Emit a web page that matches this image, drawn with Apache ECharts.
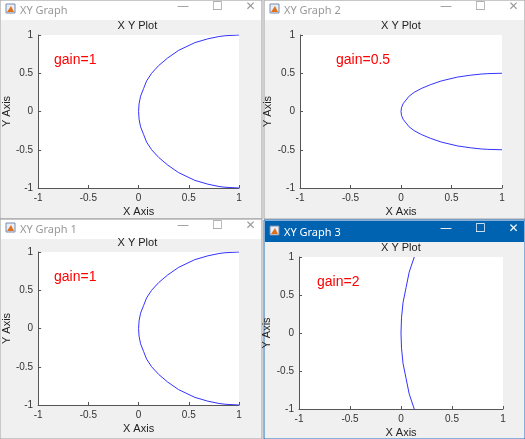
<!DOCTYPE html>
<html>
<head>
<meta charset="utf-8">
<script src="https://cdn.jsdelivr.net/npm/echarts@6/dist/echarts.min.js"></script>
<style>
  html, body { margin: 0; padding: 0; background: #ffffff; }
  #main { width: 525px; height: 439px; }
</style>
</head>
<body>
<div id="main"></div>
<script>
// values
var windowTitles = ['XY Graph', 'XY Graph 2', 'XY Graph 1', 'XY Graph 3'];
var gainLabels = ['gain=1', 'gain=0.5', 'gain=1', 'gain=2'];

var curveX = [1, 0.86, 0.8, 0.69, 0.56, 0.4, 0.29, 0.2, 0.13, 0.08, 0.05, 0.02, 0.005, 0,
              0.005, 0.02, 0.05, 0.08, 0.13, 0.2, 0.29, 0.4, 0.56, 0.69, 0.8, 0.86, 1];
var curveY = [1, 0.99, 0.98, 0.95, 0.9, 0.8, 0.7, 0.6, 0.5, 0.4, 0.3, 0.2, 0.1, 0,
              -0.1, -0.2, -0.3, -0.4, -0.5, -0.6, -0.7, -0.8, -0.9, -0.95, -0.98, -0.99, -1];
var halfY = [0.5, 0.495, 0.49, 0.475, 0.45, 0.4, 0.35, 0.3, 0.25, 0.2, 0.15, 0.1, 0.05, 0,
             -0.05, -0.1, -0.15, -0.2, -0.25, -0.3, -0.35, -0.4, -0.45, -0.475, -0.49, -0.495, -0.5];
var steepX = [0.13, 0.08, 0.05, 0.02, 0.005, 0, 0.005, 0.02, 0.05, 0.08, 0.13];
var steepY = [1, 0.8, 0.6, 0.4, 0.2, 0, -0.2, -0.4, -0.6, -0.8, -1];

function pairs(xs, ys) { return xs.map(function (x, i) { return [x, ys[i]]; }); }
var seriesData = [pairs(curveX, curveY), pairs(curveX, halfY), pairs(curveX, curveY), pairs(steepX, steepY)];

// window frames: [left, top, width, height, plot left, plot top, plot width, plot height]
var wins = [
  [0, 0, 262, 219, 36, 35, 203, 153],
  [264, 0, 261, 219, 300, 35, 202, 153],
  [0, 219, 262, 220, 36, 252, 203, 153],
  [264, 220, 261, 219, 299, 257, 204, 152]
];

var graphics = [], grids = [], xAxes = [], yAxes = [], series = [];
wins.forEach(function (w, i) {
  var active = i === 3;
  graphics.push({ type: 'rect', shape: { x: w[0], y: w[1], width: w[2], height: w[3] },
    style: { fill: '#f0f0f0', stroke: active ? '#1e6fc0' : '#a0a0a0', lineWidth: 1 }, z: -10 });
  graphics.push({ type: 'rect', shape: { x: w[0] + 1, y: w[1] + 1, width: w[2] - 2, height: active ? 21 : 19 },
    style: { fill: active ? '#0063b1' : '#ffffff' }, z: -9 });
  // little matlab icon
  graphics.push({ type: 'rect', shape: { x: w[0] + 6, y: w[1] + (active ? 6 : 4), width: 9, height: 9 },
    style: { fill: '#e8eef8', stroke: '#7a8aa8', lineWidth: 1 } });
  graphics.push({ type: 'polygon', shape: { points: [[w[0] + 7, w[1] + (active ? 14 : 12)], [w[0] + 11, w[1] + (active ? 8 : 6)], [w[0] + 14, w[1] + (active ? 14 : 12)]] },
    style: { fill: '#e0701a' } });
  graphics.push({ type: 'text', left: w[0] + 20, top: w[1] + (active ? 7 : 5),
    style: { text: windowTitles[i], fill: active ? '#ffffff' : '#999999', font: '11px "Segoe UI", "Noto Sans", sans-serif' } });
  graphics.push({ type: 'text', left: w[0] + w[2] - 85, top: w[1] + (active ? 3 : 1),
    style: { text: '—      ☐      ✕', fill: active ? '#ffffff' : '#999999', font: '12px "DejaVu Sans", sans-serif' } });
  graphics.push({ type: 'text', left: w[4] + w[6] / 2 - 20, top: w[5] - 15,
    style: { text: 'X Y Plot', fill: '#222', font: '11px "Liberation Sans", Arial, sans-serif' } });
  graphics.push({ type: 'text', left: w[4] + (i === 1 ? 36 : 18), top: w[5] + 18,
    style: { text: gainLabels[i], fill: '#ff0000', font: '14px "Liberation Sans", Arial, sans-serif' } });

  grids.push({ left: w[4], top: w[5], width: w[6], height: w[7], show: true,
    backgroundColor: '#ffffff', borderWidth: 0 });
  var axisCommon = {
    gridIndex: i, type: 'value', min: -1, max: 1, interval: 0.5,
    nameLocation: 'middle', nameTextStyle: { color: '#222', fontSize: 11, fontFamily: 'Liberation Sans' },
    axisLine: { show: true, onZero: false, lineStyle: { color: '#555' } },
    axisTick: { show: true, inside: true, length: 3, lineStyle: { color: '#555' } },
    axisLabel: { color: '#333', fontSize: 10, fontFamily: 'Liberation Sans', margin: 5 },
    splitLine: { show: false }
  };
  xAxes.push(Object.assign({}, axisCommon, { name: 'X Axis', nameGap: 18 }));
  yAxes.push(Object.assign({}, axisCommon, { name: 'Y Axis', nameGap: 24 }));
  series.push({ type: 'line', xAxisIndex: i, yAxisIndex: i, data: seriesData[i], smooth: false,
    showSymbol: false, clip: true, lineStyle: { color: '#3333ff', width: 1 } });
});

var myChart = echarts.init(document.getElementById('main'));
myChart.setOption({
  animation: false,
  graphic: graphics,
  grid: grids,
  xAxis: xAxes,
  yAxis: yAxes,
  series: series
});
</script>
</body>
</html>
